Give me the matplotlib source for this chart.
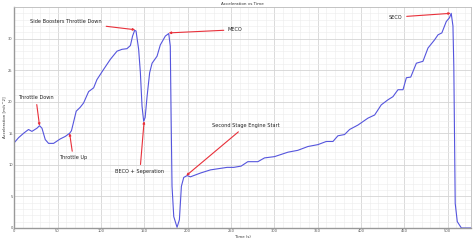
import matplotlib.pyplot as plt
from matplotlib.ticker import AutoMinorLocator

# flight time (s) and acceleration (m/s^2)
time = [0, 5, 10.8, 16.5, 20.4, 26.2, 29.2, 32, 35.8, 39.6, 45.4, 53, 58.9, 63.9,
        66, 68.5, 71.5, 76, 80, 85.8, 91.6, 95.4, 103, 110.8, 118.5, 124.3, 130, 134,
        136.5, 138.9, 140.5, 143.5, 145.5, 147.4, 149.3, 151, 153.2, 156.2, 159,
        164.7, 168.5, 174.3, 178.2, 180, 181, 182, 184, 187.8, 190.5, 192.8, 195.5,
        199.4, 203.2, 214.8, 226.3, 245.6, 253.2, 261.7, 269.4, 281, 288.7, 300.2,
        315.6, 327.1, 338.7, 350.2, 359.9, 367.6, 373.3, 381, 386.8, 396.4, 408,
        415.7, 423.3, 431, 436.8, 442.6, 448.4, 452.3, 457.3, 463.8, 471.4, 477.2,
        484.8, 488.8, 493.2, 498.3, 502, 504, 506, 507, 508.6, 511, 515.7, 527]
accel = [13.5, 14.3, 15.0, 15.6, 15.3, 15.8, 16.2, 15.8, 14.0, 13.4, 13.4, 14.1, 14.5, 15.0,
         15.4, 16.8, 18.5, 19.1, 19.8, 21.6, 22.2, 23.5, 25.1, 26.7, 28.0, 28.3, 28.4, 28.9,
         30.4, 31.3, 31.2, 28.3, 24.6, 19.3, 16.9, 17.5, 20.8, 24.6, 26.1,
         27.2, 29.0, 30.4, 30.8, 28.8, 17.1, 6.6, 1.8, 0.1, 1.3, 6.6, 8.0,
         8.3, 8.1, 8.7, 9.2, 9.6, 9.6, 9.8, 10.5, 10.5, 11.1, 11.3,
         12.0, 12.3, 12.9, 13.2, 13.7, 13.7, 14.6, 14.8, 15.6, 16.3, 17.4,
         17.9, 19.5, 20.3, 20.8, 21.9, 21.9, 23.8, 23.9, 26.1, 26.4, 28.5,
         29.8, 30.6, 30.9, 32.7, 33.3, 34.0, 32.0, 25.6, 3.9, 1.0, 0.0, 0.0]

# events: label, point on curve, text position
events = ["Side Boosters Throttle Down", "MECO", "Throttle Down", "Throttle Up",
          "BECO + Seperation", "Second Stage Engine Start", "SECO"]
event_t = [139.5, 178.2, 29.2, 63.9, 149.8, 198.5, 503.5]
event_a = [31.4, 30.9, 16.2, 15.0, 16.9, 8.3, 34.0]
label_t = [60, 255, 25, 68, 145, 267, 440]
label_a = [32.7, 31.4, 20.6, 11.1, 9.0, 16.2, 33.4]

fig = plt.figure(figsize=(4.74, 2.42), dpi=100)
ax = fig.add_axes([0.030, 0.058, 0.964, 0.913])

ax.plot(time, accel, color='#5555dd', lw=0.8)

for name, x, y, tx, ty in zip(events, event_t, event_a, label_t, label_a):
    ax.annotate(name, xy=(x, y), xytext=(tx, ty), fontsize=3.6, color='#222222',
                ha='center', va='center',
                arrowprops=dict(arrowstyle='-|>', color='#e8303a', lw=0.8,
                                mutation_scale=3, shrinkA=1, shrinkB=0))

ax.set_xlim(0, 527)
ax.set_ylim(0, 35)
ax.set_xticks(range(0, 501, 50))
ax.set_yticks(range(0, 31, 5))
ax.xaxis.set_minor_locator(AutoMinorLocator(5))
ax.yaxis.set_minor_locator(AutoMinorLocator(5))
ax.grid(which='major', color='#d4d4d4', lw=0.6)
ax.grid(which='minor', color='#ececec', lw=0.4)
ax.set_axisbelow(True)
ax.tick_params(which='both', length=0, labelsize=2.6, pad=1, colors='#555555')
for s in ax.spines.values():
    s.set_color('#bbbbbb')
    s.set_linewidth(0.6)
ax.spines['left'].set_color('#999999')
ax.spines['bottom'].set_color('#999999')
ax.spines['left'].set_linewidth(1)
ax.spines['bottom'].set_linewidth(1)

ax.set_title('Acceleration vs Time', fontsize=3, pad=1.5, color='#333333')
ax.set_xlabel('Time (s)', fontsize=2.8, labelpad=1, color='#333333')
ax.set_ylabel('Acceleration [m/s^2]', fontsize=2.8, labelpad=1.5, color='#333333')

plt.savefig('out.png', dpi=100)
